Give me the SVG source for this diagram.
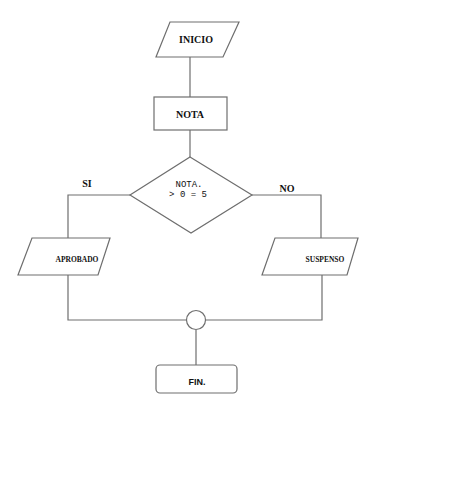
<svg xmlns="http://www.w3.org/2000/svg" width="474" height="486" viewBox="0 0 474 486">
<style>
.s{fill:#fff;stroke:#6e6e6e;stroke-width:1.2}
.c{fill:none;stroke:#6e6e6e;stroke-width:1.2}
.t{font-family:"Liberation Serif",serif;font-weight:bold;fill:#111;text-anchor:middle}
.m{font-family:"Liberation Mono",monospace;fill:#111;text-anchor:middle;font-size:9px}
.a{font-family:"Liberation Sans",sans-serif;font-weight:bold;fill:#111;text-anchor:middle}
</style>
<rect width="474" height="486" fill="#fff"/>
<g id="connectors">
<line class="c" x1="190" y1="57" x2="190" y2="97"/>
<line class="c" x1="190" y1="130" x2="190" y2="157"/>
<polyline class="c" points="130,195 68,195 68,238"/>
<polyline class="c" points="252,195 321,195 321,238"/>
<polyline class="c" points="68,275 68,320 187,320"/>
<polyline class="c" points="322,275 322,320 206,320"/>
<line class="c" x1="196" y1="330" x2="196" y2="365"/>
</g>
<g id="inicio">
<polygon class="s" points="170,22 239,22 223,57 156,57"/>
<text class="t" x="196" y="43" font-size="10">INICIO</text>
</g>
<g id="nota">
<rect class="s" x="154" y="97" width="73" height="33"/>
<text class="t" x="190" y="118" font-size="10">NOTA</text>
</g>
<g id="decision">
<polygon class="s" points="190,157 252,195 191,233 130,195"/>
<text class="m" x="189" y="187">NOTA.</text>
<text class="m" x="188" y="197">&gt; 0 = 5</text>
</g>
<g id="si"><text class="t" x="87" y="187" font-size="10">SI</text></g>
<g id="no"><text class="t" x="287" y="192" font-size="10">NO</text></g>
<g id="aprobado">
<polygon class="s" points="32,238 110,238 98,275 18,275"/>
<text class="t" x="77" y="262" font-size="7.5">APROBADO</text>
</g>
<g id="suspenso">
<polygon class="s" points="275,238 358,238 347,275 262,275"/>
<text class="t" x="325" y="262" font-size="7.5">SUSPENSO</text>
</g>
<g id="union">
<circle class="s" cx="196" cy="320" r="9.5"/>
</g>
<g id="fin">
<rect class="s" x="156" y="365" width="81" height="28" rx="4"/>
<text class="a" x="197" y="385" font-size="9">FIN.</text>
</g>
</svg>
